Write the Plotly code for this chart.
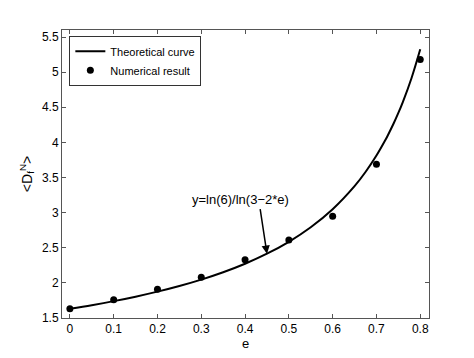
import plotly.graph_objects as go

# Theoretical curve y = ln(6)/ln(3-2*e), tabulated values
e_curve = [0, 0.05, 0.1, 0.15, 0.2, 0.25, 0.3, 0.35, 0.4, 0.45, 0.5, 0.55, 0.6,
           0.65, 0.675, 0.7, 0.72, 0.725, 0.74, 0.75, 0.76, 0.78, 0.8]
y_curve = [1.6309, 1.6829, 1.7402, 1.8039, 1.8752, 1.9555, 2.0466, 2.1512, 2.2725,
           2.4150, 2.5850, 2.7916, 3.0483, 3.3767, 3.5780, 3.8122, 4.0293, 4.0884,
           4.2793, 4.4190, 4.5703, 4.9138, 5.3252]

# Numerical results
e_num = [0, 0.1, 0.2, 0.3, 0.4, 0.5, 0.6, 0.7, 0.8]
y_num = [1.63, 1.76, 1.91, 2.08, 2.33, 2.61, 2.95, 3.69, 5.18]

x_ticks = [0, 0.1, 0.2, 0.3, 0.4, 0.5, 0.6, 0.7, 0.8]
x_labels = ["0", "0.1", "0.2", "0.3", "0.4", "0.5", "0.6", "0.7", "0.8"]
y_ticks = [1.5, 2, 2.5, 3, 3.5, 4, 4.5, 5, 5.5]
y_labels = ["1.5", "2", "2.5", "3", "3.5", "4", "4.5", "5", "5.5"]

FONT = "Liberation Sans, Arial, Helvetica, sans-serif"
AX = "#555555"

fig = go.Figure()
fig.add_trace(go.Scatter(x=e_curve, y=y_curve, mode="lines", name="Theoretical curve",
                         line=dict(color="black", width=2, shape="spline")))
fig.add_trace(go.Scatter(x=e_num, y=y_num, mode="markers", name="Numerical result",
                         marker=dict(color="black", size=7)))

fig.add_annotation(x=0.45, y=2.415, ax=0.434, ay=3.07, xref="x", yref="y",
                   axref="x", ayref="y", text="", showarrow=True,
                   arrowhead=2, arrowsize=1.1, arrowwidth=1.5, arrowcolor="black")
fig.add_annotation(x=0.389, y=3.19, xref="x", yref="y", text="y=ln(6)/ln(3\u22122*e)",
                   showarrow=False, font=dict(size=13, color="black", family=FONT))

fig.update_layout(
    width=474, height=358,
    margin=dict(l=54, r=53, t=22, b=48),
    paper_bgcolor="white", plot_bgcolor="white",
    font=dict(family=FONT, size=12, color="black"),
    showlegend=True,
    legend=dict(x=0.02, y=0.98, xanchor="left", yanchor="top",
                bordercolor="#333333", borderwidth=1, bgcolor="white",
                font=dict(size=11), tracegroupgap=0, itemwidth=30),
    xaxis=dict(range=[-0.018, 0.82], tickvals=x_ticks, ticktext=x_labels,
               ticks="inside", ticklen=4, tickcolor=AX, showline=True, linecolor=AX,
               linewidth=1, mirror="ticks", showgrid=False, zeroline=False,
               automargin=False,
               title=dict(text="e", standoff=0, font=dict(size=13))),
    yaxis=dict(range=[1.5, 5.6], tickvals=y_ticks, ticktext=y_labels,
               ticks="inside", ticklen=4, tickcolor=AX, showline=True, linecolor=AX,
               linewidth=1, mirror="ticks", showgrid=False, zeroline=False,
               automargin=False,
               title=dict(text="&lt;D<sub>f</sub><sup>N</sup>&gt;", standoff=6,
                          font=dict(size=14))),
)

fig.write_html("out.html")
